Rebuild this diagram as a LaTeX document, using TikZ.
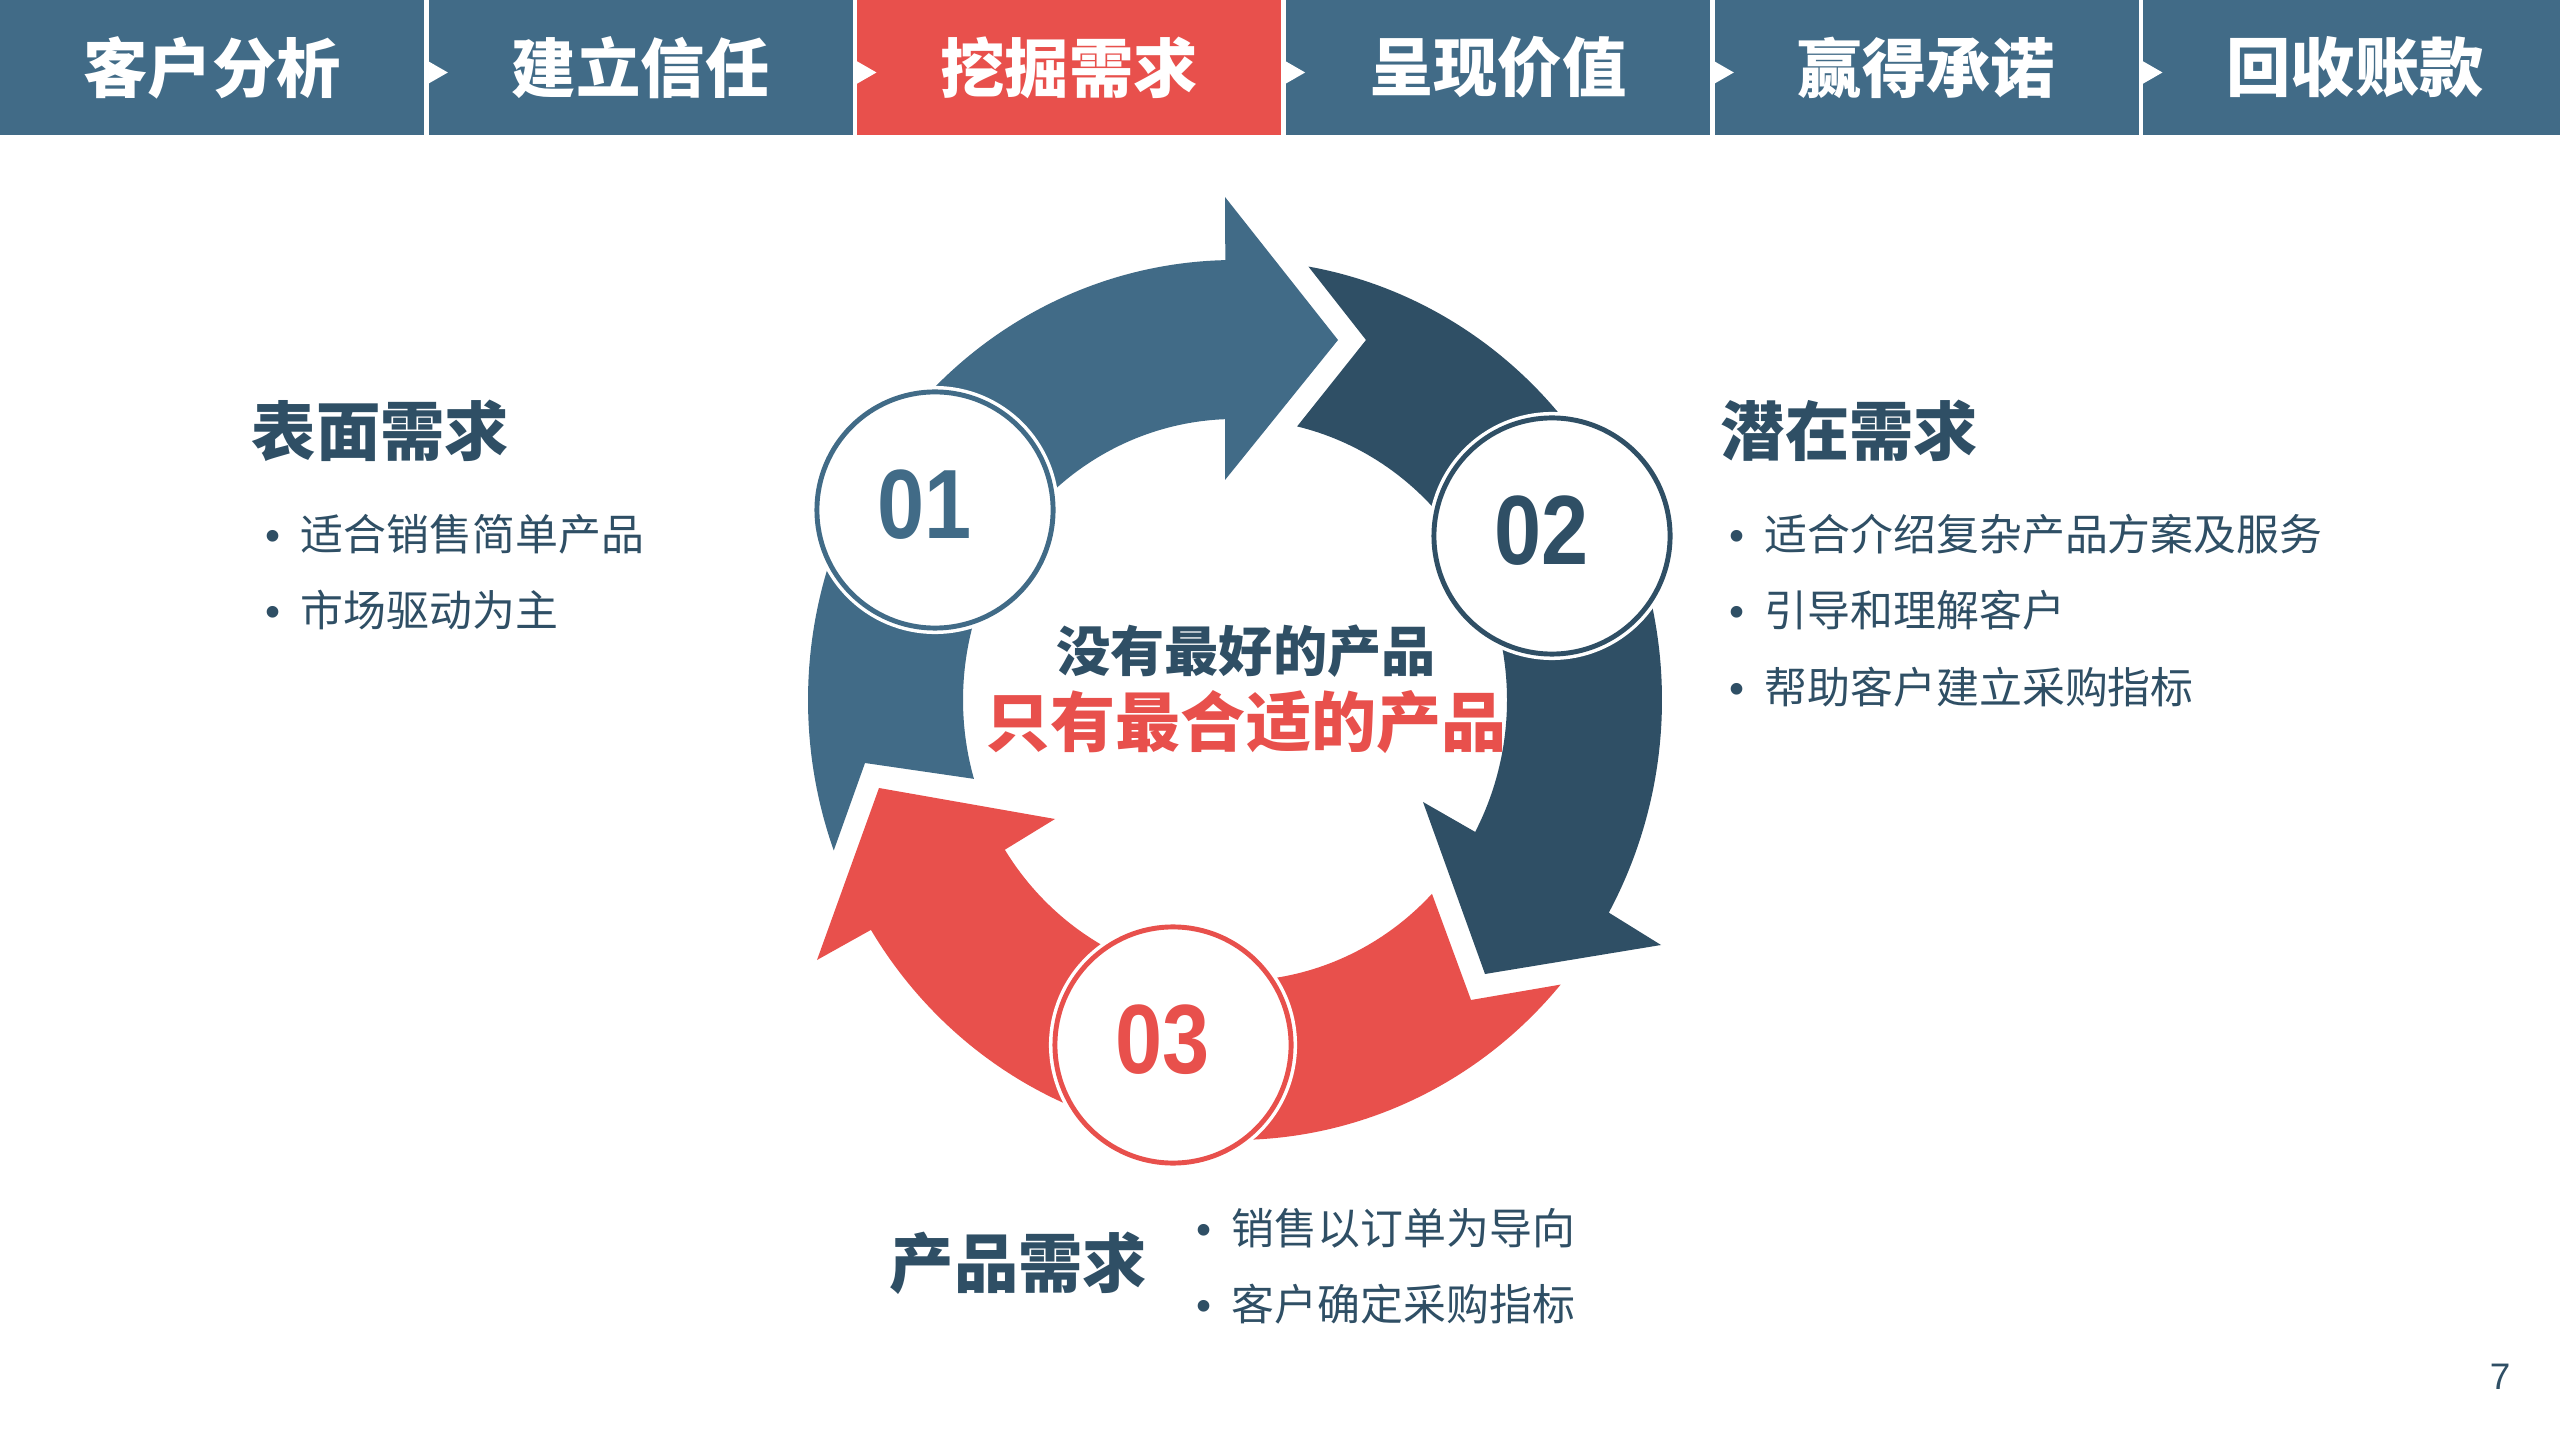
\documentclass[tikz,border=0pt]{standalone}
\usepackage{fontspec}
\usepackage{xcolor}
\usepackage{tikz}
\usetikzlibrary{positioning}
\newfontfamily\cjk{Noto Sans CJK SC}
\newfontfamily\numfont{Liberation Sans}
\definecolor{cblue}{HTML}{416B87}
\definecolor{cnavy}{HTML}{2F4F65}
\definecolor{cred}{HTML}{E8504C}
\definecolor{ctext}{HTML}{2F4F65}
% ring radii (pixels): outer / inner, x / y
\newcommand\ringxo{427}
\newcommand\ringyo{440}
\newcommand\ringxi{272}
\newcommand\ringyi{281}
\newcommand\bitem{\makebox[0.56cm][c]{\numfont •}}
\newcommand\discnum[1]{\scalebox{0.86}[1]{#1}\rule{0.2cm}{0pt}}

\begin{document}
\begin{tikzpicture}[
    x=0.01cm, y=-0.01cm,
    stage/.style={
        rectangle, fill=cblue, minimum width=4.24cm, minimum height=1.35cm,
        inner sep=0pt, text=white,
        font=\cjk\bfseries\fontsize{18.3pt}{20pt}\selectfont
    },
    stagecur/.style={stage, fill=cred},
    numdisc/.style={
        circle, fill=white, line width=1.4pt, minimum size=2.36cm,
        inner sep=0pt, text depth=0.12cm,
        preaction={draw=white, line width=3.4pt},
        font=\numfont\bfseries\fontsize{28pt}{30pt}\selectfont
    },
    heading/.style={
        anchor=west, inner sep=0pt, text=ctext,
        font=\cjk\bfseries\fontsize{18.3pt}{20pt}\selectfont
    },
    point/.style={
        anchor=west, inner sep=0pt, text=ctext,
        font=\cjk\fontsize{12.2pt}{14pt}\selectfont
    },
]

% --- Canvas ------------------------------------------------------------------
\useasboundingbox (0,0) rectangle (2560,1440);
\fill[white] (0,0) rectangle (2560,1440);

% --- Stage bar ---------------------------------------------------------------
\node[stage]    (s1) at (212,67.5) {客户分析};
\node[stage]    (s2) [right=0.03cm of s1] {建立信任};
\node[stagecur] (s3) [right=0.03cm of s2] {挖掘需求};
\node[stage]    (s4) [right=0.03cm of s3] {呈现价值};
\node[stage]    (s5) [right=0.03cm of s4] {赢得承诺};
\node[stage]    (s6) [right=0.03cm of s5] {回收账款};

% small white pointers at the left edge of each stage
\fill[white] ([yshift=0.065cm]s2.west) -- ++(20,11.5) -- ++(-20,11.5) -- cycle;
\fill[white] ([yshift=0.065cm]s3.west) -- ++(20,11.5) -- ++(-20,11.5) -- cycle;
\fill[white] ([yshift=0.065cm]s4.west) -- ++(20,11.5) -- ++(-20,11.5) -- cycle;
\fill[white] ([yshift=0.065cm]s5.west) -- ++(20,11.5) -- ++(-20,11.5) -- cycle;
\fill[white] ([yshift=0.065cm]s6.west) -- ++(20,11.5) -- ++(-20,11.5) -- cycle;

% --- Cycle of three arrows ---------------------------------------------------
% centre of the ring at (1235,700); inside the scope y points up
\begin{scope}[shift={(1235,700)}, yscale=-1]
    % arrow 1: left side, head pointing right at the top
    \fill[cblue] ({\ringxo*cos(91.3)},{\ringyo*sin(91.3)})
        arc[start angle=91.3, end angle=200, x radius=\ringxo, y radius=\ringyo]
        -- (-370,-63)
        -- ({\ringxi*cos(196.3)},{\ringyi*sin(196.3)})
        arc[start angle=196.3, end angle=92.1, x radius=\ringxi, y radius=\ringyi]
        -- (-10,220) -- (103,360) -- (-10,503) -- cycle;
    % arrow 2: right side, head pointing down-left
    \fill[cnavy] ({\ringxo*cos(80.1)},{\ringyo*sin(80.1)})
        arc[start angle=80.1, end angle=-28.9, x radius=\ringxo, y radius=\ringyo]
        -- (426,-245) -- (250,-274) -- (188,-102)
        -- ({\ringxi*cos(-28.0)},{\ringyi*sin(-28.0)})
        arc[start angle=-28.0, end angle=76.8, x radius=\ringxi, y radius=\ringyi]
        -- (131,360) -- cycle;
    % arrow 3: bottom, head pointing up-left
    \fill[cred] ({\ringxo*cos(-40.3)},{\ringyo*sin(-40.3)})
        arc[start angle=-40.3, end angle=-148.5, x radius=\ringxo, y radius=\ringyo]
        -- (-418,-260) -- (-356,-88) -- (-180,-119)
        -- ({\ringxi*cos(-147.8)},{\ringyi*sin(-147.8)})
        arc[start angle=-147.8, end angle=-43.6, x radius=\ringxi, y radius=\ringyi]
        -- (236,-300) -- cycle;
\end{scope}

% --- Number discs ------------------------------------------------------------
\node[numdisc, draw=cblue, text=cblue] (n1) at (935,510)   {\discnum{01}};
\node[numdisc, draw=cnavy, text=cnavy] (n2) at (1552,536)  {\discnum{02}};
\node[numdisc, draw=cred,  text=cred]  (n3) at (1173,1045) {\discnum{03}};

% --- Motto in the middle -----------------------------------------------------
\node[text=cnavy, font=\cjk\bfseries\fontsize{15.4pt}{16pt}\selectfont]
    (motto1) at (1246,651) {没有最好的产品};
\node[text=cred, font=\cjk\bfseries\fontsize{18.5pt}{20pt}\selectfont]
    (motto2) at (1246,722) {只有最合适的产品};

% --- Surface needs (left) ----------------------------------------------------
\node[heading] (surface) at (251,431) {表面需求};
\node[point] (surf1) at (244,534) {\bitem 适合销售简单产品};
\node[point] (surf2) at (244,610) {\bitem 市场驱动为主};

% --- Latent needs (right) ----------------------------------------------------
\node[heading] (latent) at (1720,431) {潜在需求};
\node[point] (lat1) at (1708,534) {\bitem 适合介绍复杂产品方案及服务};
\node[point] (lat2) at (1708,610) {\bitem 引导和理解客户};
\node[point] (lat3) at (1708,687) {\bitem 帮助客户建立采购指标};

% --- Product needs (bottom) --------------------------------------------------
\node[heading] (product) at (889,1263) {产品需求};
\node[point] (prod1) at (1175,1228) {\bitem 销售以订单为导向};
\node[point] (prod2) at (1175,1304) {\bitem 客户确定采购指标};

% --- Page number -------------------------------------------------------------
\node[text=ctext, font=\numfont\fontsize{10.5pt}{12pt}\selectfont]
    (pageno) at (2500,1377) {7};

\end{tikzpicture}
\end{document}
